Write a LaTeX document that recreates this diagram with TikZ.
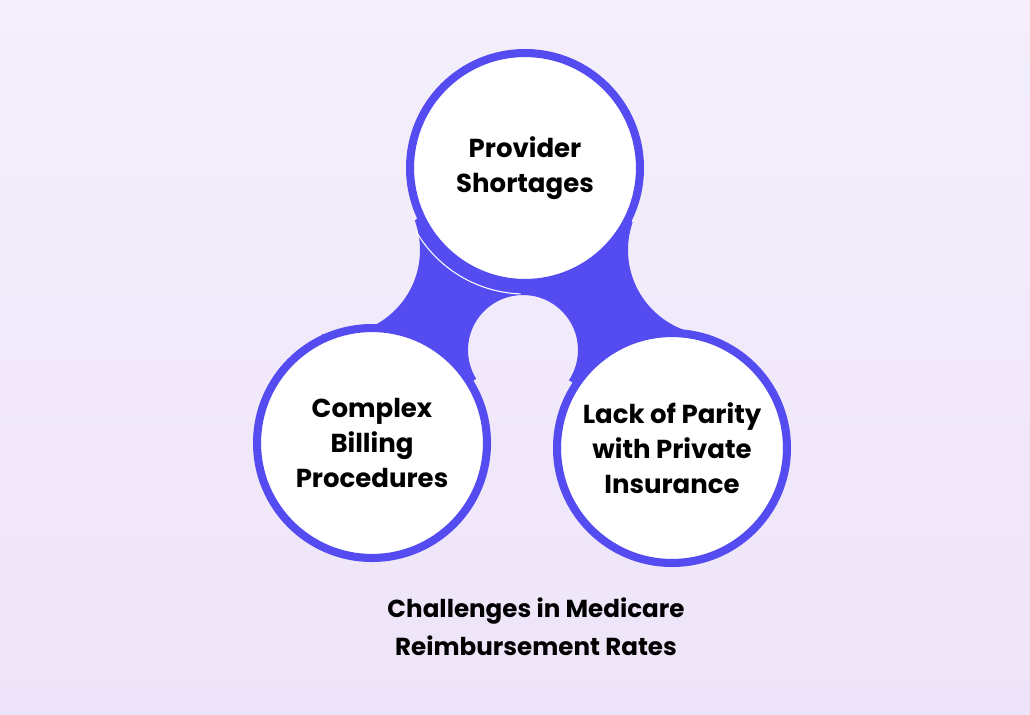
\documentclass[tikz,border=0pt]{standalone}
\usepackage{fontspec}
\setmainfont{Poppins}
\usetikzlibrary{positioning}
\definecolor{bridgeblue}{HTML}{544BF1}
\definecolor{bgtop}{HTML}{F4EFFB}
\definecolor{bgbot}{HTML}{EEE4F9}
\tikzset{
	topic/.style = {
			circle,
			fill       = white,
			draw       = bridgeblue,
			line width = 4.6pt,
			minimum size = 4.6cm,
			align      = center,
			font       = \fontsize{14.8}{20}\selectfont\bfseries,
		},
}
\begin{document}
\begin{tikzpicture}[x=0.02cm,y=-0.02cm]
			\shade[top color=bgtop, bottom color=bgbot] (0,0) rectangle (1030,714);
			\useasboundingbox (0,0) rectangle (1030,714);

			% bridges, with the gaps left open
			\begin{scope}[even odd rule]
				\clip (0,0) rectangle (1030,714)
					(335,250) circle (85) (713,250) circle (85) (523,350) circle (55);
				\fill[bridgeblue] (525,168) -- (420,215) -- (320,330) -- (372,443) -- (523,350)
					-- (672,448) -- (712,330) -- (627,215) -- cycle;
			\end{scope}
			\draw[white, line width=0.6pt] (525,168) ++(150:126) arc (150:92:126);

			% topics
			\node[topic] (provider) at (525,168) {Provider\\Shortages};
			\node[topic] (billing) at (372,443) {Complex\\Billing\\Procedures};
			\node[topic] (parity) at (672,448) {Lack of Parity\\with Private\\Insurance};

			\node[align=center, font=\fontsize{14}{21.6}\selectfont\bfseries] (title) at (536,627) {Challenges in Medicare\\Reimbursement Rates};
		\end{tikzpicture}
\end{document}
